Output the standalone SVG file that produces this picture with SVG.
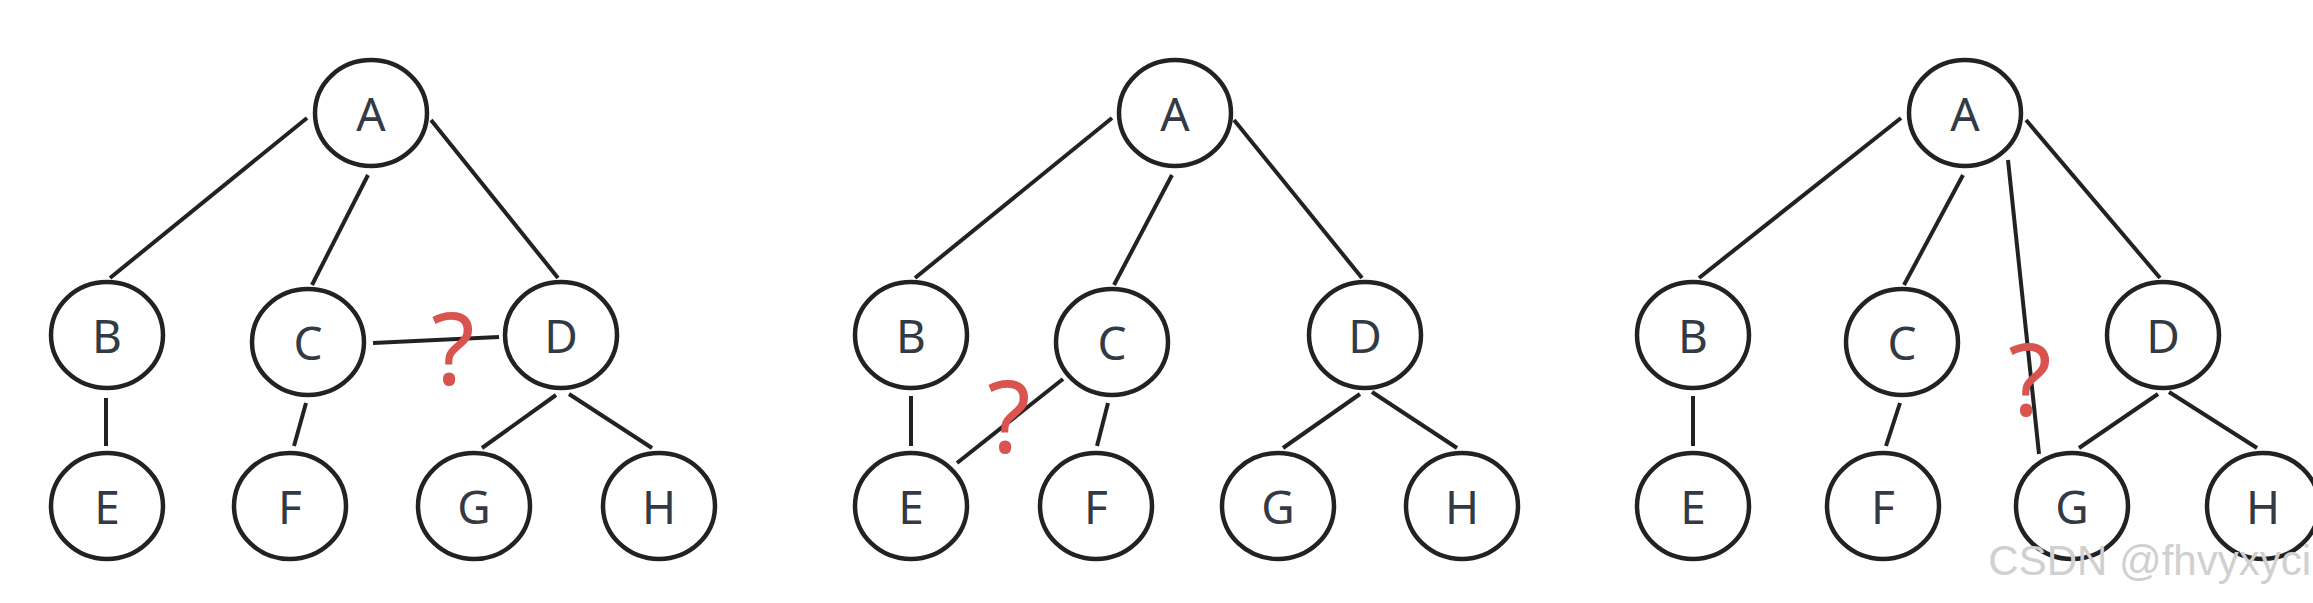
<svg xmlns="http://www.w3.org/2000/svg" width="2313" height="603" viewBox="0 0 2313 603">
<style>
.n ellipse{fill:#fff;stroke:#222;stroke-width:4.5}
.n text{font-family:"Noto Sans","DejaVu Sans",sans-serif;font-size:46px;fill:#333a44;text-anchor:middle;dominant-baseline:central}
#edges line{stroke:#222;stroke-width:4}
.q{font-family:"Noto Sans","DejaVu Sans",sans-serif;font-size:100px;fill:#d9534f;text-anchor:middle}
</style>
<rect width="2313" height="603" fill="#fff"/>
<g id="edges">
<line x1="307" y1="118" x2="110" y2="278"/><line x1="368" y1="175" x2="312" y2="285"/><line x1="431" y1="120" x2="558" y2="278"/>
<line x1="106" y1="398" x2="106" y2="446"/><line x1="306" y1="403" x2="294" y2="446"/><line x1="556" y1="395" x2="482" y2="448"/><line x1="569" y1="394" x2="652" y2="448"/>
<line x1="373" y1="343" x2="499" y2="337"/>
<line x1="1112" y1="118" x2="915" y2="278"/><line x1="1172" y1="175" x2="1114" y2="285"/><line x1="1234" y1="120" x2="1362" y2="278"/>
<line x1="911" y1="396" x2="911" y2="446"/><line x1="1108" y1="403" x2="1097" y2="446"/><line x1="1360" y1="394" x2="1283" y2="448"/><line x1="1372" y1="392" x2="1457" y2="448"/>
<line x1="1063" y1="379" x2="957" y2="463"/>
<line x1="1901" y1="118" x2="1699" y2="278"/><line x1="1963" y1="175" x2="1904" y2="285"/><line x1="2026" y1="120" x2="2160" y2="278"/>
<line x1="2008" y1="160" x2="2039" y2="454"/>
<line x1="1693" y1="396" x2="1693" y2="446"/><line x1="1900" y1="403" x2="1886" y2="446"/><line x1="2158" y1="394" x2="2079" y2="448"/><line x1="2169" y1="392" x2="2257" y2="448"/>
</g>
<g id="p1A" class="n"><ellipse cx="371" cy="113" rx="56" ry="53"/><text x="371" y="113">A</text></g>
<g id="p1B" class="n"><ellipse cx="107" cy="335" rx="56" ry="53"/><text x="107" y="335">B</text></g>
<g id="p1C" class="n"><ellipse cx="308" cy="342" rx="56" ry="53"/><text x="308" y="342">C</text></g>
<g id="p1D" class="n"><ellipse cx="561" cy="335" rx="56" ry="53"/><text x="561" y="335">D</text></g>
<g id="p1E" class="n"><ellipse cx="107" cy="506" rx="56" ry="53"/><text x="107" y="506">E</text></g>
<g id="p1F" class="n"><ellipse cx="290" cy="506" rx="56" ry="53"/><text x="290" y="506">F</text></g>
<g id="p1G" class="n"><ellipse cx="474" cy="506" rx="56" ry="53"/><text x="474" y="506">G</text></g>
<g id="p1H" class="n"><ellipse cx="659" cy="506" rx="56" ry="53"/><text x="659" y="506">H</text></g>
<g id="p2A" class="n"><ellipse cx="1175" cy="113" rx="56" ry="53"/><text x="1175" y="113">A</text></g>
<g id="p2B" class="n"><ellipse cx="911" cy="335" rx="56" ry="53"/><text x="911" y="335">B</text></g>
<g id="p2C" class="n"><ellipse cx="1112" cy="342" rx="56" ry="53"/><text x="1112" y="342">C</text></g>
<g id="p2D" class="n"><ellipse cx="1365" cy="335" rx="56" ry="53"/><text x="1365" y="335">D</text></g>
<g id="p2E" class="n"><ellipse cx="911" cy="506" rx="56" ry="53"/><text x="911" y="506">E</text></g>
<g id="p2F" class="n"><ellipse cx="1096" cy="506" rx="56" ry="53"/><text x="1096" y="506">F</text></g>
<g id="p2G" class="n"><ellipse cx="1278" cy="506" rx="56" ry="53"/><text x="1278" y="506">G</text></g>
<g id="p2H" class="n"><ellipse cx="1462" cy="506" rx="56" ry="53"/><text x="1462" y="506">H</text></g>
<g id="p3A" class="n"><ellipse cx="1965" cy="113" rx="56" ry="53"/><text x="1965" y="113">A</text></g>
<g id="p3B" class="n"><ellipse cx="1693" cy="335" rx="56" ry="53"/><text x="1693" y="335">B</text></g>
<g id="p3C" class="n"><ellipse cx="1902" cy="342" rx="56" ry="53"/><text x="1902" y="342">C</text></g>
<g id="p3D" class="n"><ellipse cx="2163" cy="335" rx="56" ry="53"/><text x="2163" y="335">D</text></g>
<g id="p3E" class="n"><ellipse cx="1693" cy="506" rx="56" ry="53"/><text x="1693" y="506">E</text></g>
<g id="p3F" class="n"><ellipse cx="1883" cy="506" rx="56" ry="53"/><text x="1883" y="506">F</text></g>
<g id="p3G" class="n"><ellipse cx="2072" cy="506" rx="56" ry="53"/><text x="2072" y="506">G</text></g>
<g id="p3H" class="n"><ellipse cx="2263" cy="506" rx="56" ry="53"/><text x="2263" y="506">H</text></g>
<text class="q" x="453" y="385">?</text>
<text class="q" x="1009" y="453">?</text>
<text class="q" x="2030" y="416">?</text>
<text x="2311" y="575" font-family="Liberation Sans, sans-serif" font-size="42" fill="#d0d0d0" text-anchor="end">CSDN @fhvyxyci</text>
</svg>
